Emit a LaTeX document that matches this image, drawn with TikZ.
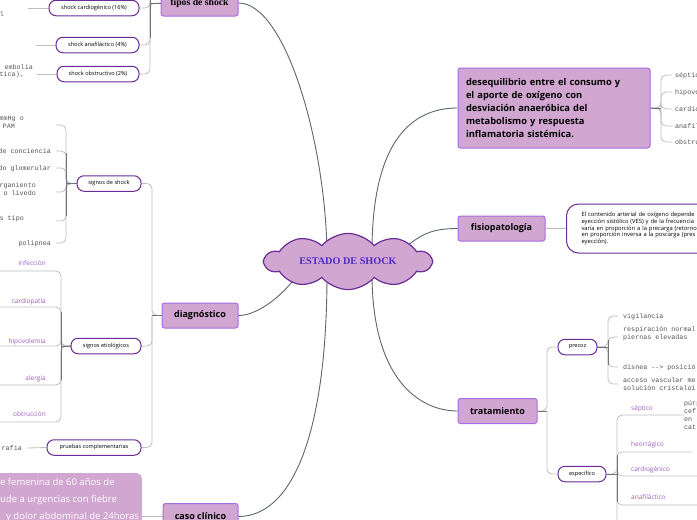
\documentclass[tikz,border=0pt]{standalone}
\usepackage{fontspec}
\setmainfont{Liberation Serif}
\newfontfamily\osans{Open Sans}
\newfontfamily\mono[Ligatures=NoCommon]{Liberation Mono}
\usetikzlibrary{shapes.symbols,shapes.geometric,backgrounds,calc}
\definecolor{mainF}{RGB}{209,166,209}
\definecolor{mainB}{RGB}{166,107,230}
\definecolor{subB}{RGB}{106,44,152}
\definecolor{cloudT}{RGB}{75,43,192}
\definecolor{leafP}{RGB}{155,92,196}
\definecolor{leafG}{RGB}{85,85,85}
\definecolor{curveC}{RGB}{94,101,108}
\definecolor{lineD}{RGB}{111,117,121}
\definecolor{lineL}{RGB}{190,190,190}
\begin{document}
\begin{tikzpicture}[x=1pt,y=-1pt,
  mainbox/.style={draw=mainB, fill=mainF, line width=1pt, rounded corners=2.5pt,
    font=\osans\bfseries\fontsize{9}{12}\selectfont, inner sep=0pt, minimum height=25pt, align=center},
  subbox/.style={draw=subB, line width=1pt, fill=white, rounded corners=7pt, minimum height=15.5pt,
    inner sep=0pt, font=\osans\fontsize{5.6}{6.5}\selectfont},
  lk/.style={draw=lineL, line width=0.8pt, rounded corners=5pt},
  dk/.style={draw=lineD, line width=0.9pt, rounded corners=5pt},
  mc/.style={draw=curveC, line width=0.9pt},
  leafm/.style={font=\mono\fontsize{6.7}{8}\selectfont, text=leafG, inner sep=0pt},
  leafp/.style={font=\osans\fontsize{6.5}{8}\selectfont, text=leafP, inner sep=0pt}]
\useasboundingbox (0,0) rectangle (697,520);
\clip (0,0) rectangle (697,520);

% ---------- central cloud ----------
\node[cloud, cloud puffs=10, cloud puff arc=100, aspect=3.6, draw=subB, line width=1.2pt, fill=mainF,
  minimum width=166pt, minimum height=47pt, inner sep=0pt,
  font=\bfseries\fontsize{10.2}{12}\selectfont, text=cloudT] (cloud) at (348,261.5) {ESTADO DE SHOCK};

% ---------- main topics ----------
\node[mainbox, font=\bfseries\fontsize{9.7}{12}\selectfont, minimum width=77pt, minimum height=26pt] (tipos) at (199.5,3) {tipos de shock};
\node[mainbox, minimum width=76pt] (diag) at (200,315.5) {diagnóstico};
\node[mainbox, minimum width=75pt, minimum height=26pt] (caso) at (200.5,516.5) {caso clínico};
\node[mainbox, minimum width=192pt, minimum height=80pt, text width=176pt, inner xsep=8pt, align=left,
  font=\osans\bfseries\fontsize{9.3}{13}\selectfont] (deseq) at (554,108)
  {desequilibrio entre el consumo y\\el aporte de oxígeno con\\desviación anaeróbica del\\metabolismo y respuesta\\inflamatoria sistémica.};
\node[mainbox, minimum width=87pt] (fisio) at (501.5,228.5) {fisiopatología};
\node[mainbox, minimum width=79pt] (trat) at (497.5,411) {tratamiento};

% ---------- sub topics ----------
\node[subbox, minimum width=90pt] (c16) at (94,8) {shock cardiogénico (16\%)};
\node[subbox, minimum width=83pt] (a4) at (97.5,45) {shock anafiláctico (4\%)};
\node[subbox, minimum width=82pt] (o2) at (98,74) {shock obstructivo (2\%)};
\node[subbox, minimum width=64pt] (ss) at (109,183.5) {signos de shock};
\node[subbox, minimum width=70pt] (se) at (106,346) {signos etiológicos};
\node[subbox, minimum width=94pt] (pc) at (94,447.5) {pruebas complementarias};
\node[subbox, minimum width=39pt] (pz) at (577.5,347) {precoz};
\node[subbox, minimum width=48pt] (es) at (582,474) {específico};

% fisiopatologia text
\node[draw=subB, line width=1pt, rounded corners=12pt, fill=white, anchor=west, minimum height=49pt,
  text width=300pt, inner xsep=15pt, align=left, font=\osans\fontsize{5.8}{6.9}\selectfont] (ftext) at (566,228.5)
  {El contenido arterial de oxígeno depende\\eyección sistólico (VES) y de la frecuencia\\varía en proporción a la precarga (retorno\\en proporción inversa a la poscarga (pres\\eyección).};

% caso clinico text box
\node[fill=mainF, rounded corners=5pt, anchor=north east, minimum width=200pt, minimum height=80pt] (ctext) at (142,473) {};
\node[font=\osans\fontsize{9.5}{12}\selectfont, text=white, anchor=mid west, inner sep=0pt] (cl1) at (0,483) {e femenina de 60 años de};
\node[font=\osans\fontsize{9.5}{12}\selectfont, text=white, anchor=mid west, inner sep=0pt] (cl2) at (0,500) {ude a urgencias con fiebre};
\node[font=\osans\fontsize{9.5}{12}\selectfont, text=white, anchor=mid west, inner sep=0pt] (cl3) at (6,517) {y dolor abdominal de 24horas};

% ---------- leaf texts ----------
% tipos
\node[leafm, anchor=mid east] (t16) at (4,14) {l};
\node[leafm, anchor=mid east] (tob1) at (33,67) {embolia};
\node[leafm, anchor=mid east] (tob2) at (24,74) {tica),};
% signos de shock
\node[leafm, anchor=mid east] (s1a) at (24,118) {mmHg o};
\node[leafm, anchor=mid east] (s1b) at (15,126) {PAM};
\node[leafm, anchor=mid east] (s2t) at (51,151) {de conciencia};
\node[leafm, anchor=mid east] (s3t) at (51,168) {do glomerular};
\node[leafm, anchor=mid east] (s4a) at (36,185) {rganiento};
\node[leafm, anchor=mid east] (s4b) at (36,193) {o livedo};
\node[leafm, anchor=mid east] (s5t) at (24,218) {s tipo};
\node[leafm, anchor=mid east] (s6t) at (51,243) {polipnea};
% signos etiologicos
\node[leafp, anchor=mid east] (e1t) at (46,263) {infección};
\node[leafp, anchor=mid east] (e2t) at (46,301) {cardiopatía};
\node[leafp, anchor=mid east] (e3t) at (46,341) {hipovolemia};
\node[leafp, anchor=mid east] (e4t) at (46,378) {alergia};
\node[leafp, anchor=mid east] (e5t) at (46,414) {obtrucción};
% pruebas
\node[leafm, anchor=mid east] (prt) at (22,448) {rafia};
% desequilibrio leaves
\node[leafm, anchor=mid west] (d1t) at (675,75) {séptico};
\node[leafm, anchor=mid west] (d2t) at (675,92) {hipovolémico};
\node[leafm, anchor=mid west] (d3t) at (675,109) {cardiogénico};
\node[leafm, anchor=mid west] (d4t) at (675,126) {anafiláctico};
\node[leafm, anchor=mid west] (d5t) at (675,142) {obstructivo};
% precoz leaves
\node[leafm, anchor=mid west] (p1t) at (623,316) {vigilancia};
\node[leafm, anchor=mid west, align=left] (p2t) at (623,337) {respiración normal\\piernas elevadas};
\node[leafm, anchor=mid west] (p3t) at (623,367) {disnea -{}-{}> posició};
\node[leafm, anchor=mid west, align=left] (p4t) at (623,388) {acceso vascular me\\solución cristaloi};
% especifico children
\node[leafp, anchor=mid west] (q1t) at (631,408) {séptico};
\node[leafp, anchor=mid west] (q2t) at (631,444) {heorrágico};
\node[leafp, anchor=mid west] (q3t) at (631,469) {cardiogénico};
\node[leafp, anchor=mid west] (q4t) at (631,497) {anafiláctico};
\node[leafm, anchor=west, align=left] (sl) at (684,415) {púrp\\cef\\en s\\cat};

% ---------- coordinates ----------
\coordinate (sxT) at (150,0);
\coordinate (tH) at (139,-30);
\coordinate (l16) at (28,8);
\coordinate (l4) at (36,45);
\coordinate (lo) at (37,74);
\coordinate (sxD) at (152,0);
\coordinate (sxS) at (66,0);
\coordinate (s1) at (56,125);
\coordinate (s2) at (56,151);
\coordinate (s3) at (56,168);
\coordinate (s4) at (56,192);
\coordinate (s5) at (56,221);
\coordinate (s6) at (56,243);
\coordinate (sxE) at (61,0);
\coordinate (e1) at (-5,271);
\coordinate (e2) at (-5,307);
\coordinate (e3) at (-5,346);
\coordinate (e4) at (-5,385);
\coordinate (e5) at (-5,422);
\coordinate (pl) at (27,448);
\coordinate (sxR) at (661,0);
\coordinate (d1) at (672,75);
\coordinate (d2) at (672,92);
\coordinate (d3) at (672,109);
\coordinate (d4) at (672,126);
\coordinate (d5) at (672,142);
\coordinate (sxTr) at (547,0);
\coordinate (sxP) at (608,0);
\coordinate (p1) at (618,316);
\coordinate (p2) at (618,337);
\coordinate (p3) at (618,367);
\coordinate (p4) at (618,384);
\coordinate (sxQ) at (617,0);
\coordinate (q2) at (692,452);
\coordinate (q3) at (705,476);
\coordinate (q4) at (705,505);
\coordinate (q5) at (705,540);

\begin{pgfonlayer}{background}
% main curves
\draw[mc] ($(cloud.center)+(-21,-10)$) .. controls (325,140) and (285,3) .. (tipos.east);
\draw[mc] ($(cloud.center)+(-48,10)$) .. controls (280,300) and (255,315.5) .. (diag.east);
\draw[mc] ($(cloud.center)+(-21,12)$) .. controls (327,440) and (290,516.5) .. (caso.east);
\draw[mc] ($(cloud.center)+(24,-10)$) .. controls (372,130) and (420,108) .. (deseq.west);
\draw[mc] ($(cloud.center)+(52,-10)$) .. controls (420,235) and (430,228.5) .. (fisio.west);
\draw[mc] ($(cloud.center)+(24,12)$) .. controls (372,380) and (420,411) .. (trat.west);

% tipos de shock
\draw[lk] (tipos.west) -- (tipos.west -| sxT) |- (c16.east);
\draw[lk] (tipos.west -| sxT) |- (a4.east);
\draw[lk] (tipos.west -| sxT) |- (o2.east);
\draw[lk] (tipos.west -| sxT) |- (tH);
\draw[dk] (tipos.west) -- (tipos.west -| sxT);
\draw[dk] (sxT |- tH) -- (150,38);
\draw[lk] (c16.west) -- (l16);
\draw[lk] (a4.west) -- (l4);
\draw[lk] (o2.west) -- (lo);

% diagnostico
\draw[lk] (diag.west) -- (diag.west -| sxD) |- (ss.east);
\draw[lk] (diag.west -| sxD) |- (se.east);
\draw[lk] (diag.west -| sxD) |- (pc.east);
\draw[dk] (diag.west) -- (diag.west -| sxD);
\foreach \i in {1,...,6} {\draw[lk] (ss.west) -- (ss.west -| sxS) |- (s\i);}
\draw[dk] (ss.west) -- (ss.west -| sxS);
\draw[dk] (66,153) -- (66,216);
\foreach \i in {1,...,5} {\draw[lk] (se.west) -- (se.west -| sxE) |- (e\i);}
\draw[dk] (se.west) -- (se.west -| sxE);
\draw[dk] (61,312) -- (61,380);
\draw[lk] (pc.west) -- (pl);

% caso clinico
\draw[lk] (caso.west -| ctext.east) -- (caso.west);

% desequilibrio
\foreach \i in {1,...,5} {\draw[lk] (deseq.east) -- (deseq.east -| sxR) |- (d\i);}
\draw[dk] (deseq.east) -- (deseq.east -| sxR);

% fisiopatologia
\draw[lk] (fisio.east) -- (ftext.west);

% tratamiento
\draw[lk] (trat.east) -- (trat.east -| sxTr) |- (pz.west);
\draw[lk] (trat.east -| sxTr) |- (es.west);
\draw[dk] (trat.east) -- (trat.east -| sxTr);
\foreach \i in {1,...,4} {\draw[lk] (pz.east) -- (pz.east -| sxP) |- (p\i);}
\draw[dk] (pz.east) -- (pz.east -| sxP);
\draw[dk] (608,340) -- (608,365);
\draw[lk] (es.east) -- (es.east -| sxQ) |- (sl.west);
\foreach \i in {2,...,5} {\draw[lk] (es.east -| sxQ) |- (q\i);}
\draw[dk] (es.east) -- (es.east -| sxQ);
\draw[dk] (617,455) -- (617,502);
\end{pgfonlayer}
\end{tikzpicture}
\end{document}
